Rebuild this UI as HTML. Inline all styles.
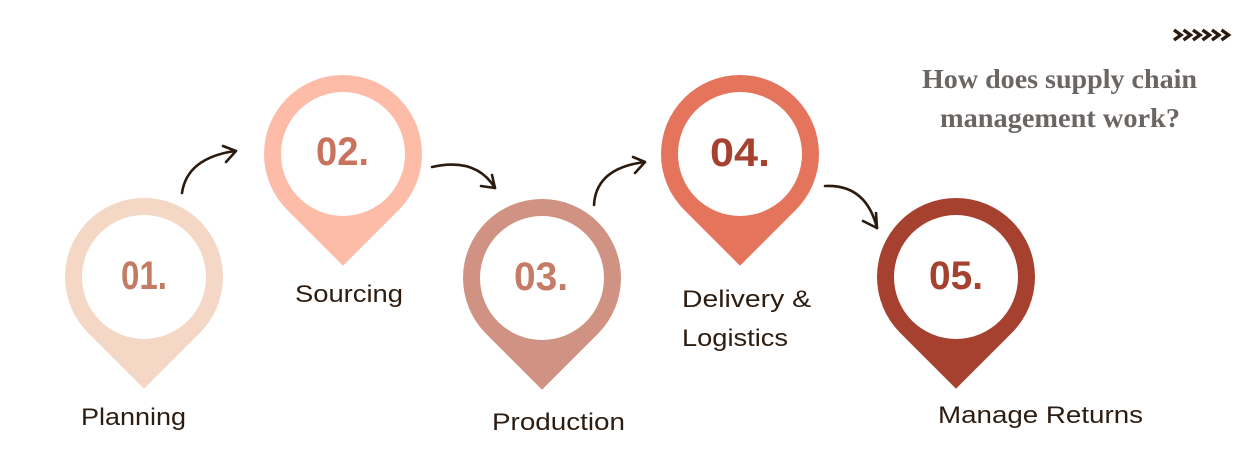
<!DOCTYPE html>
<html>
<head>
<meta charset="utf-8">
<style>
html,body{margin:0;padding:0;background:#ffffff;}
body{width:1250px;height:474px;overflow:hidden;}
svg{display:block;}
.num{font-family:"Liberation Sans",sans-serif;font-weight:bold;font-size:40px;}
.lbl{font-family:"Liberation Sans",sans-serif;font-size:24px;fill:#2d1c10;}
.ttl{font-family:"Liberation Serif",serif;font-weight:bold;font-size:27px;fill:#6b6664;}
.arr{fill:none;stroke:#2b1a0e;stroke-width:2.6;stroke-linecap:round;stroke-linejoin:round;}
</style>
</head>
<body>
<svg width="1250" height="474" viewBox="0 0 1250 474" xmlns="http://www.w3.org/2000/svg">
  <rect width="1250" height="474" fill="#ffffff"/>

  <!-- Pin 1 -->
  <path d="M88.14,332.86 A79,79 0 1 1 199.86,332.86 L144,388.7 Z" fill="#f5d7c6"/>
  <circle cx="144" cy="277" r="62" fill="#ffffff"/>
  <text class="num" x="121" y="289" textLength="46" lengthAdjust="spacingAndGlyphs" fill="#c47b64">01.</text>

  <!-- Pin 2 -->
  <path d="M287.14,209.86 A79,79 0 1 1 398.86,209.86 L343,265.7 Z" fill="#fcbca8"/>
  <circle cx="343" cy="154" r="62" fill="#ffffff"/>
  <text class="num" x="316" y="165" textLength="53" lengthAdjust="spacingAndGlyphs" fill="#c8735d">02.</text>

  <!-- Pin 3 -->
  <path d="M486.14,333.86 A79,79 0 1 1 597.86,333.86 L542,389.7 Z" fill="#d09283"/>
  <circle cx="542" cy="278" r="62" fill="#ffffff"/>
  <text class="num" x="514" y="290" textLength="54" lengthAdjust="spacingAndGlyphs" fill="#c57c66">03.</text>

  <!-- Pin 4 -->
  <path d="M684.14,209.86 A79,79 0 1 1 795.86,209.86 L740,265.7 Z" fill="#e5745d"/>
  <circle cx="740" cy="154" r="62" fill="#ffffff"/>
  <text class="num" x="710" y="166" textLength="60" lengthAdjust="spacingAndGlyphs" fill="#a5412e">04.</text>

  <!-- Pin 5 -->
  <path d="M900.14,332.86 A79,79 0 1 1 1011.86,332.86 L956,388.7 Z" fill="#a5412e"/>
  <circle cx="956" cy="277" r="62" fill="#ffffff"/>
  <text class="num" x="929" y="289" textLength="54" lengthAdjust="spacingAndGlyphs" fill="#a5412e">05.</text>

  <!-- Labels -->
  <text class="lbl" x="81" y="425" textLength="105" lengthAdjust="spacingAndGlyphs">Planning</text>
  <text class="lbl" x="295" y="302" textLength="108" lengthAdjust="spacingAndGlyphs">Sourcing</text>
  <text class="lbl" x="492" y="430" textLength="133" lengthAdjust="spacingAndGlyphs">Production</text>
  <text class="lbl" x="682" y="307" textLength="129" lengthAdjust="spacingAndGlyphs">Delivery &amp;</text>
  <text class="lbl" x="682" y="346" textLength="106" lengthAdjust="spacingAndGlyphs">Logistics</text>
  <text class="lbl" x="938" y="423" textLength="205" lengthAdjust="spacingAndGlyphs">Manage Returns</text>

  <!-- Arrows -->
  <path class="arr" d="M182,193 Q187,158 235,151"/>
  <path class="arr" d="M223,146 L236,151 L226,162"/>

  <path class="arr" d="M432,167 Q476,157 495,188"/>
  <path class="arr" d="M481,186 L495,188 L492,175"/>

  <path class="arr" d="M594,205 Q596,168 645,162"/>
  <path class="arr" d="M633,157 L645,162 L635,173"/>

  <path class="arr" d="M825,186 Q866,184 877,228"/>
  <path class="arr" d="M863,221 L877,228 L876,213"/>

  <!-- Chevrons -->
  <g fill="none" stroke="#2b1a0e" stroke-width="3.4" stroke-linejoin="miter">
    <polyline points="1174,30 1181,35 1174,40"/>
    <polyline points="1183.5,30 1190.5,35 1183.5,40"/>
    <polyline points="1193,30 1200,35 1193,40"/>
    <polyline points="1202.5,30 1209.5,35 1202.5,40"/>
    <polyline points="1212,30 1219,35 1212,40"/>
    <polyline points="1221.5,30 1228.5,35 1221.5,40"/>
  </g>

  <!-- Title -->
  <text class="ttl" x="922" y="88" textLength="275" lengthAdjust="spacingAndGlyphs">How does supply chain</text>
  <text class="ttl" x="940" y="127" textLength="240" lengthAdjust="spacingAndGlyphs">management work?</text>
</svg>
</body>
</html>
